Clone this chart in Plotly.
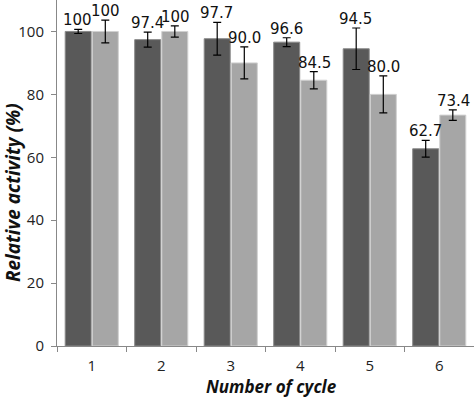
import plotly.graph_objects as go

cycles = ["1", "2", "3", "4", "5", "6"]
series_a = [100, 97.4, 97.7, 96.6, 94.5, 62.7]
series_a_err = [0.65, 2.4, 5.2, 1.4, 6.6, 2.65]
series_b = [100, 100, 90.0, 84.5, 80.0, 73.4]
series_b_err = [3.6, 1.8, 5.1, 2.75, 5.9, 1.7]
labels_a = ["100", "97.4", "97.7", "96.6", "94.5", "62.7"]
labels_b = ["100", "100", "90.0", "84.5", "80.0", "73.4"]
x_title = "Number of cycle"
y_title = "Relative activity (%)"

fig = go.Figure()
fig.add_trace(go.Bar(
    x=cycles, y=series_a, name="A",
    marker=dict(color="#595959", line=dict(color="#8a8a8a", width=1)),
    error_y=dict(type="data", array=series_a_err, color="black", thickness=1.2, width=4),
))
fig.add_trace(go.Bar(
    x=cycles, y=series_b, name="B",
    marker=dict(color="#a6a6a6", line=dict(color="#d0d0d0", width=1)),
    error_y=dict(type="data", array=series_b_err, color="black", thickness=1.2, width=4),
))

for i, c in enumerate(cycles):
    fig.add_annotation(x=i, y=series_a[i] + series_a_err[i], text=labels_a[i],
                       xshift=-14, yshift=-2, yanchor="bottom", showarrow=False,
                       font=dict(family="DejaVu Sans", size=15, color="#111"))
    fig.add_annotation(x=i, y=series_b[i] + series_b_err[i], text=labels_b[i],
                       xshift=14, yshift=-2, yanchor="bottom", showarrow=False,
                       font=dict(family="DejaVu Sans", size=15, color="#111"))

fig.add_annotation(xref="paper", yref="paper", x=0.5, y=0, xshift=6, yshift=-40,
                   xanchor="center", yanchor="middle", showarrow=False, borderpad=0,
                   text="<b><i>" + x_title + "</i></b>",
                   font=dict(family="Open Sans", size=17, color="#111"))
fig.add_annotation(xref="paper", yref="paper", x=0, y=0.442, xshift=-44,
                   xanchor="center", yanchor="middle", showarrow=False, textangle=-90,
                   borderpad=0,
                   text="<b><i>" + y_title + "</i></b>",
                   font=dict(family="Open Sans", size=19, color="#111"))

fig.update_layout(
    width=474, height=398,
    margin=dict(l=57, r=0, t=0, b=52, autoexpand=False),
    plot_bgcolor="white", paper_bgcolor="white",
    showlegend=False,
    barmode="group", bargap=0.22, bargroupgap=0.04,
    font=dict(family="Open Sans", size=15, color="#222"),
)
fig.update_xaxes(
    type="category", range=[-0.5, 5.5], automargin=False,
    showline=True, linecolor="#888", linewidth=1,
    ticks="outside", tickson="boundaries", ticklen=5, tickcolor="#888",
    ticklabelstandoff=6,
    tickfont=dict(family="Open Sans", size=15, color="#222"),
    showgrid=False,
)
fig.update_yaxes(
    range=[0, 110], tickvals=[0, 20, 40, 60, 80, 100], automargin=False,
    showline=True, linecolor="#888", linewidth=1,
    ticks="outside", ticklen=5, tickcolor="#888",
    ticklabelstandoff=4,
    tickfont=dict(family="Open Sans", size=15, color="#222"),
    showgrid=False, zeroline=False,
)

fig.write_html("out.html", config={"displayModeBar": False},
               post_script="document.body.style.margin='0px';document.body.style.overflow='hidden';")
